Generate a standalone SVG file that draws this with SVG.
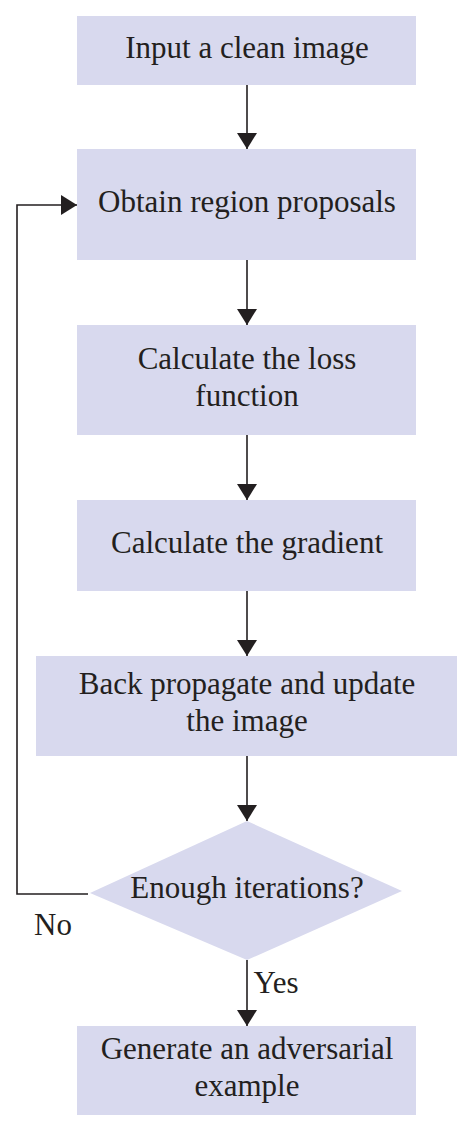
<svg xmlns="http://www.w3.org/2000/svg" width="474" height="1133" viewBox="0 0 474 1133">
<style>
.box{fill:#d8d9ee}
.t{font-family:"Liberation Serif","Times New Roman",serif;font-size:31px;fill:#231f20;text-anchor:middle}
.c{stroke:#231f20;stroke-width:1.6;fill:none}
</style>
<defs>
<marker id="ah" markerUnits="userSpaceOnUse" markerWidth="20" markerHeight="20" viewBox="0 0 16 20" refX="16" refY="10" orient="auto">
<path d="M0,0 L16,10 L0,20 Z" fill="#231f20"/>
</marker>
</defs>
<rect width="474" height="1133" fill="#fff"/>
<g id="n1"><rect class="box" x="77" y="16" width="339" height="69"/><text class="t" x="247" y="58">Input a clean image</text></g>
<g id="n2"><rect class="box" x="77" y="149" width="339" height="111"/><text class="t" x="247" y="212">Obtain region proposals</text></g>
<g id="n3"><rect class="box" x="77" y="325" width="339" height="110"/><text class="t" x="247" y="369">Calculate the loss</text><text class="t" x="247" y="406">function</text></g>
<g id="n4"><rect class="box" x="77" y="500" width="339" height="91"/><text class="t" x="247" y="553">Calculate the gradient</text></g>
<g id="n5"><rect class="box" x="36" y="656" width="421" height="100"/><text class="t" x="247" y="694">Back propagate and update</text><text class="t" x="247" y="731">the image</text></g>
<g id="n6"><polygon class="box" points="247,821 402,891 247,960 90,893"/><text class="t" x="247" y="898">Enough iterations?</text></g>
<g id="n7"><rect class="box" x="77" y="1026" width="339" height="89"/><text class="t" x="247" y="1059">Generate an adversarial</text><text class="t" x="247" y="1096">example</text></g>
<g id="connectors">
<line class="c" x1="247" y1="85" x2="247" y2="149" marker-end="url(#ah)"/>
<line class="c" x1="247" y1="260" x2="247" y2="325" marker-end="url(#ah)"/>
<line class="c" x1="247" y1="435" x2="247" y2="500" marker-end="url(#ah)"/>
<line class="c" x1="247" y1="591" x2="247" y2="656" marker-end="url(#ah)"/>
<line class="c" x1="247" y1="756" x2="247" y2="821" marker-end="url(#ah)"/>
<line class="c" x1="247" y1="960" x2="247" y2="1026" marker-end="url(#ah)"/>
<polyline class="c" points="88,894 17,894 17,205 77,205" marker-end="url(#ah)"/>
<text class="t" x="53" y="935">No</text>
<text class="t" x="276" y="993">Yes</text>
</g>
</svg>
